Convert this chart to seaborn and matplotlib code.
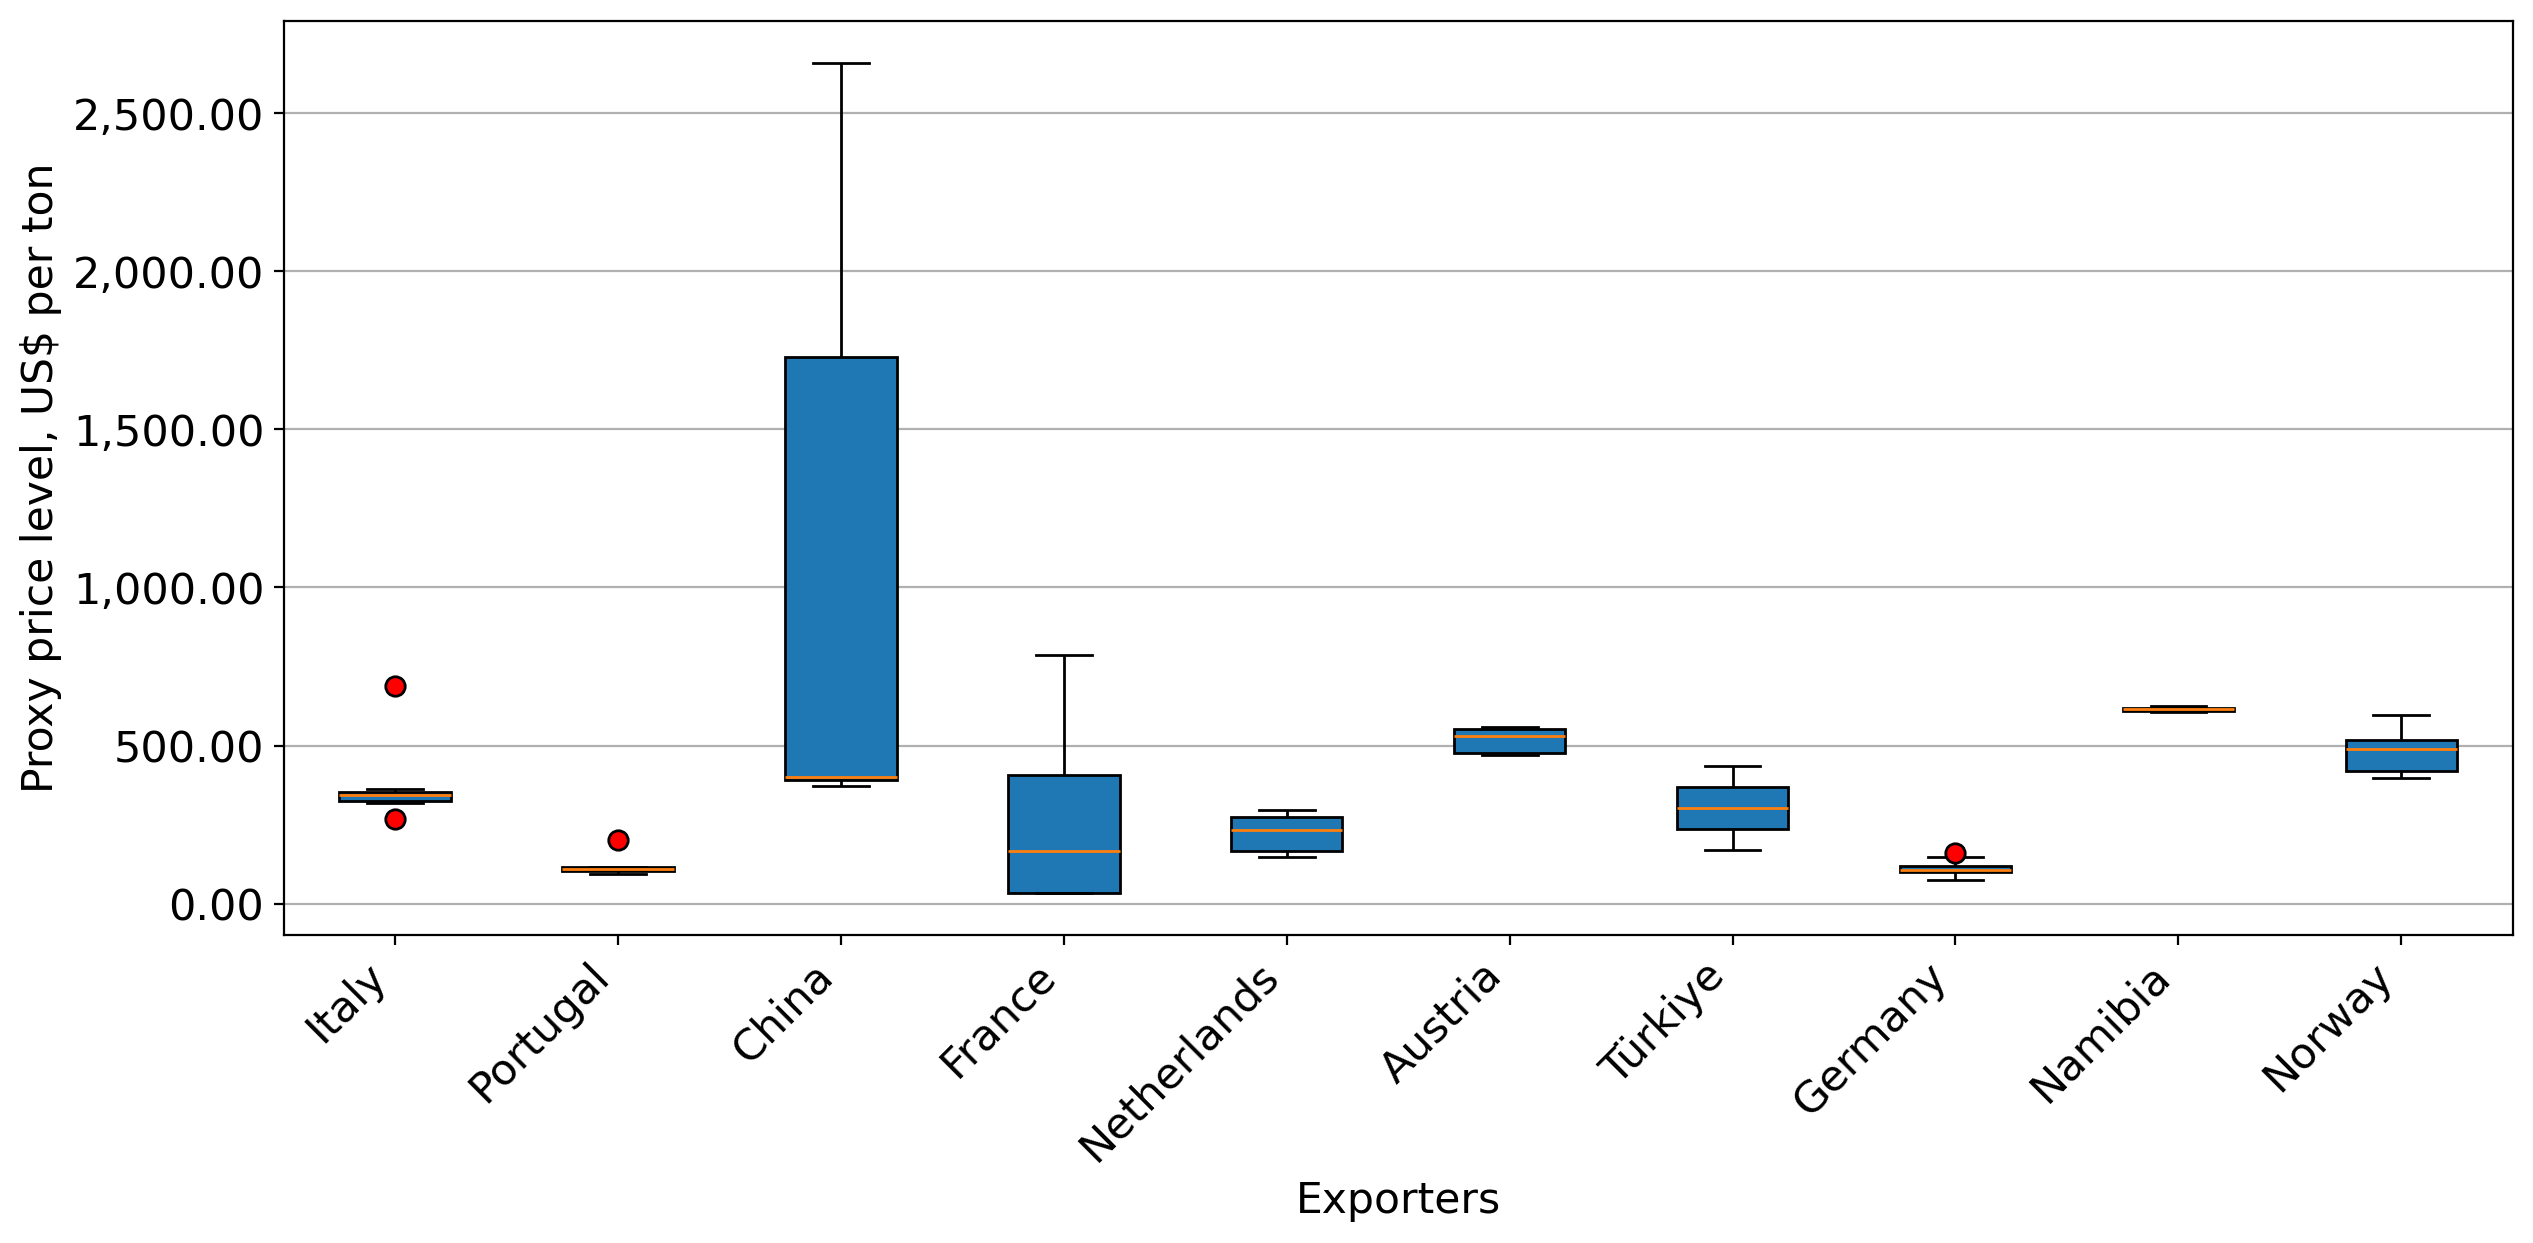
import pandas as pd
import matplotlib
matplotlib.use("Agg")
import matplotlib.pyplot as plt
import matplotlib.ticker as mticker
import seaborn as sns

# Exportadores y precios aproximados (US$ por tonelada)
exporters = ["Italy", "Portugal", "China", "France", "Netherlands",
             "Austria", "Türkiye", "Germany", "Namibia", "Norway"]

italy = [269, 318, 330, 344, 346, 362, 688]
portugal = [95, 100, 104, 107, 110, 112, 115, 117, 200]
china = [373, 392, 400, 1730, 2660]
france = [33, 33, 167, 408, 785]
netherlands = [148, 167, 233, 274, 296]
austria = [470, 476, 530, 552, 560]
turkiye = [171, 236, 303, 369, 436]
germany = [76, 95, 100, 104, 107, 112, 120, 148, 159]
namibia = [605, 610, 616, 620, 625]
norway = [397, 421, 489, 518, 596]

values = [italy, portugal, china, france, netherlands,
          austria, turkiye, germany, namibia, norway]

df = pd.DataFrame(
    [(name, v) for name, vals in zip(exporters, values) for v in vals],
    columns=["Exporter", "Price"],
)

fig, ax = plt.subplots(figsize=(12.665, 6.215), dpi=200)
fig.subplots_adjust(left=0.112, right=0.992, top=0.983, bottom=0.248)

sns.boxplot(
    data=df, x="Exporter", y="Price", order=exporters, ax=ax,
    color="C0", saturation=1, linecolor="black", linewidth=1, width=0.5,
    medianprops={"color": "C1", "linewidth": 1},
    flierprops={"marker": "o", "markerfacecolor": "red",
                "markeredgecolor": "black", "markersize": 7},
)

ax.yaxis.set_major_formatter(mticker.StrMethodFormatter("{x:,.2f}"))
ax.yaxis.grid(True, color="#b0b0b0", linewidth=0.8)
ax.set_axisbelow(True)
ax.set_xlabel("Exporters", fontsize=15.3)
ax.set_ylabel("Proxy price level, US$ per ton", fontsize=15.3)
ax.tick_params(axis="both", labelsize=15.5)
plt.setp(ax.get_xticklabels(), rotation=45, ha="right")

fig.savefig("out.png", dpi=200)
